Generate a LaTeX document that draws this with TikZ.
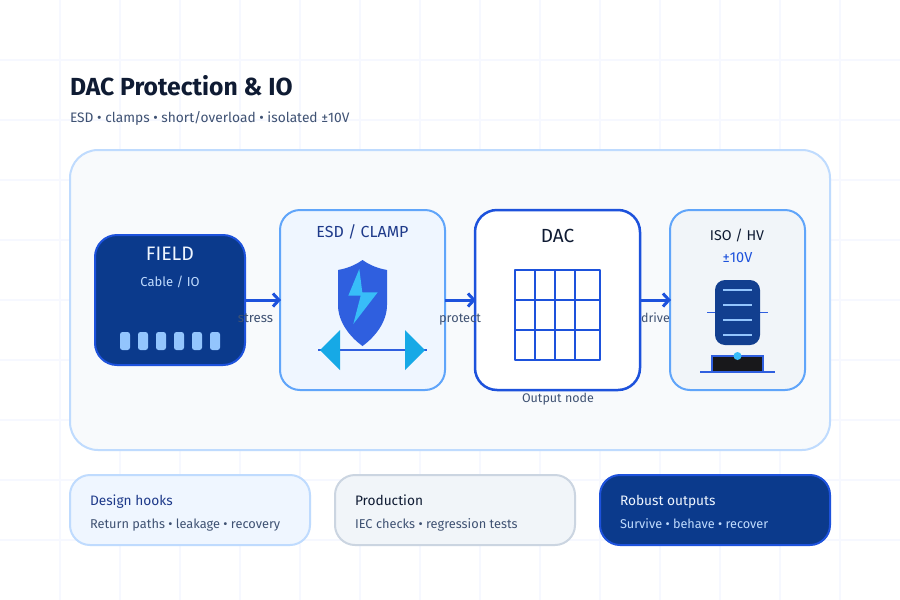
\documentclass[tikz,border=0pt]{standalone}
\usepackage{fontspec}
\setmainfont{Fira Sans}
\usetikzlibrary{arrows.meta,positioning}
\definecolor{navy}{HTML}{0B3A8C}
\definecolor{blueS}{HTML}{1D52DC}
\definecolor{midB}{HTML}{60A5FA}
\definecolor{paleB}{HTML}{BFDBFE}
\definecolor{iceB}{HTML}{EFF6FF}
\definecolor{lightB}{HTML}{93C5FD}
\definecolor{slateF}{HTML}{F1F5F9}
\definecolor{slateS}{HTML}{CBD5E1}
\definecolor{panelF}{HTML}{F8FAFC}
\definecolor{gridC}{HTML}{F6F8FF}
\definecolor{ink}{HTML}{0F1B33}
\definecolor{inkB}{HTML}{1E3A8A}
\definecolor{inkS}{HTML}{3F5273}
\definecolor{shieldC}{HTML}{2F5FDF}
\definecolor{boltC}{HTML}{38BDF8}
\definecolor{clampC}{HTML}{16A9E6}
\definecolor{capC}{HTML}{123F8F}
\definecolor{chipC}{HTML}{18181B}
\tikzset{
  box/.style={rectangle,outer sep=0pt,inner sep=0pt,line width=2pt},
  txt/.style={inner sep=0pt,outer sep=0pt,anchor=base},
  txtl/.style={inner sep=0pt,outer sep=0pt,anchor=base west},
  flow/.style={line width=3pt,blueS,-{Straight Barb[length=6pt,width=13pt,line width=3pt]},shorten >=-1pt},
  edgelab/.style={txt,text=inkS,font=\fontsize{12.8}{14}\selectfont},
}
\begin{document}
\begin{tikzpicture}[x=1pt,y=-1pt]
\useasboundingbox (0,0) rectangle (900,600);
\fill[white] (0,0) rectangle (900,600);
\foreach \i in {60,120,...,840} \draw[gridC,line width=2pt] (\i,0) -- (\i,600);
\foreach \i in {60,120,...,540} \draw[gridC,line width=2pt] (0,\i) -- (900,\i);
% title
\node[txtl,text=ink,font=\fontsize{24.7}{28}\selectfont\bfseries] (title) at (70,95) {DAC Protection \& IO};
\node[txtl,text=inkS,font=\fontsize{13.75}{16}\selectfont] (sub) at (70,122) {ESD • clamps • short/overload • isolated ±10V};
% panel
\node[box,draw=paleB,fill=panelF,rounded corners=28pt,minimum width=760pt,minimum height=300pt] (panel) at (450,300) {};
% blocks
\node[box,draw=blueS,fill=navy,rounded corners=22pt,minimum width=150pt,minimum height=130pt] (field) at (170,300) {};
\node[box,draw=midB,fill=iceB,rounded corners=20pt,minimum width=165pt,minimum height=180pt] (esd) at (362.5,300) {};
\node[box,draw=blueS,fill=white,line width=2.5pt,rounded corners=22pt,minimum width=165pt,minimum height=180pt] (dac) at (557.5,300) {};
\node[box,draw=midB,fill=slateF,rounded corners=20pt,minimum width=135pt,minimum height=180pt] (iso) at (737.5,300) {};
% connectors
\draw[flow] (field.east) -- (esd.west);
\draw[flow] (esd.east) -- (dac.west);
\draw[flow] (dac.east) -- (iso.west);
\node[edgelab,font=\fontsize{13.3}{15}\selectfont] (l1) at (255.5,322) {stress};
\node[edgelab] (l2) at (460,322) {protect};
\node[edgelab,font=\fontsize{12.5}{14}\selectfont] (l3) at (655.5,322) {drive};
\node[edgelab,font=\fontsize{12.5}{14}\selectfont] (l4) at (558,402) {Output node};
% field text
\node[txt,text=iceB,font=\fontsize{19.5}{21}\selectfont] (t1) at (170,260) {FIELD};
\node[txt,text=paleB,font=\fontsize{13}{15}\selectfont] (t2) at (170,286) {Cable / IO};
\foreach \i in {120,138,...,210}
  \fill[lightB,rounded corners=2.5pt] (\i,332) rectangle (\i+10,350);
% esd
\node[txt,text=inkB,font=\fontsize{16}{18}\selectfont] (t3) at (362.5,237) {ESD / CLAMP};
\fill[shieldC] (362.5,260) .. controls (354,266) and (346,268.5) .. (338,270) -- (338,305)
  .. controls (338,322) and (350,337) .. (362.5,346)
  .. controls (375,337) and (387,322) .. (387,305) -- (387,270)
  .. controls (379,268.5) and (371,266) .. (362.5,260) -- cycle;
\fill[boltC] (359.3,269) -- (348.3,295.7) -- (360.7,295.7) -- (353.3,324) -- (377.7,292.3) -- (362.3,292.3) -- cycle;
\draw[shieldC,line width=2pt] (318,350) -- (427,350);
\fill[clampC] (320,350) -- (340,330) -- (340,370) -- cycle;
\fill[clampC] (425,350) -- (405,330) -- (405,370) -- cycle;
% dac
\node[txt,text=ink,font=\fontsize{19}{21}\selectfont] (t4) at (557.5,242) {DAC};
\draw[blueS,line width=2pt,line join=round] (515,270) rectangle (600,360);
\foreach \i in {535,555,575} \draw[blueS,line width=2pt] (\i,270) -- (\i,360);
\foreach \i in {300,330} \draw[blueS,line width=2pt] (515,\i) -- (600,\i);
% iso
\node[txt,text=ink,font=\fontsize{14.2}{16}\selectfont] (t5) at (737,240) {ISO / HV};
\node[txt,text=blueS,font=\fontsize{14.5}{16}\selectfont] (t6) at (737.5,262) {±10V};
\draw[shieldC,line width=1.5pt] (707,312.5) -- (768,312.5);
\fill[capC,rounded corners=10pt] (715,280) rectangle (760,345);
\foreach \i in {290,305,320,335} \draw[lightB,line width=1.5pt] (723,\i) -- (752,\i);
\draw[shieldC,line width=2pt,fill=chipC] (712,356) rectangle (763,372);
\draw[shieldC,line width=2pt] (700,372) -- (775,372);
\fill[boltC] (737.5,356) circle (4pt);
% cards
\node[box,draw=paleB,fill=iceB,rounded corners=20pt,minimum width=240pt,minimum height=70pt] (c1) at (190,510) {};
\node[box,draw=slateS,fill=slateF,rounded corners=20pt,minimum width=240pt,minimum height=70pt] (c2) at (455,510) {};
\node[box,draw=blueS,fill=navy,rounded corners=20pt,minimum width=230pt,minimum height=70pt] (c3) at (715,510) {};
\node[txtl,text=inkB,font=\fontsize{13.7}{15}\selectfont] (a1) at (90,505) {Design hooks};
\node[txtl,text=inkS,font=\fontsize{12.8}{14}\selectfont] (a2) at (90,528) {Return paths • leakage • recovery};
\node[txtl,text=ink,font=\fontsize{13.7}{15}\selectfont] (b1) at (355,505) {Production};
\node[txtl,text=inkS,font=\fontsize{12.8}{14}\selectfont] (b2) at (355,528) {IEC checks • regression tests};
\node[txtl,text=iceB,font=\fontsize{13.7}{15}\selectfont] (d1) at (620,505) {Robust outputs};
\node[txtl,text=paleB,font=\fontsize{12.7}{14}\selectfont] (d2) at (620,528) {Survive • behave • recover};
\end{tikzpicture}
\end{document}
